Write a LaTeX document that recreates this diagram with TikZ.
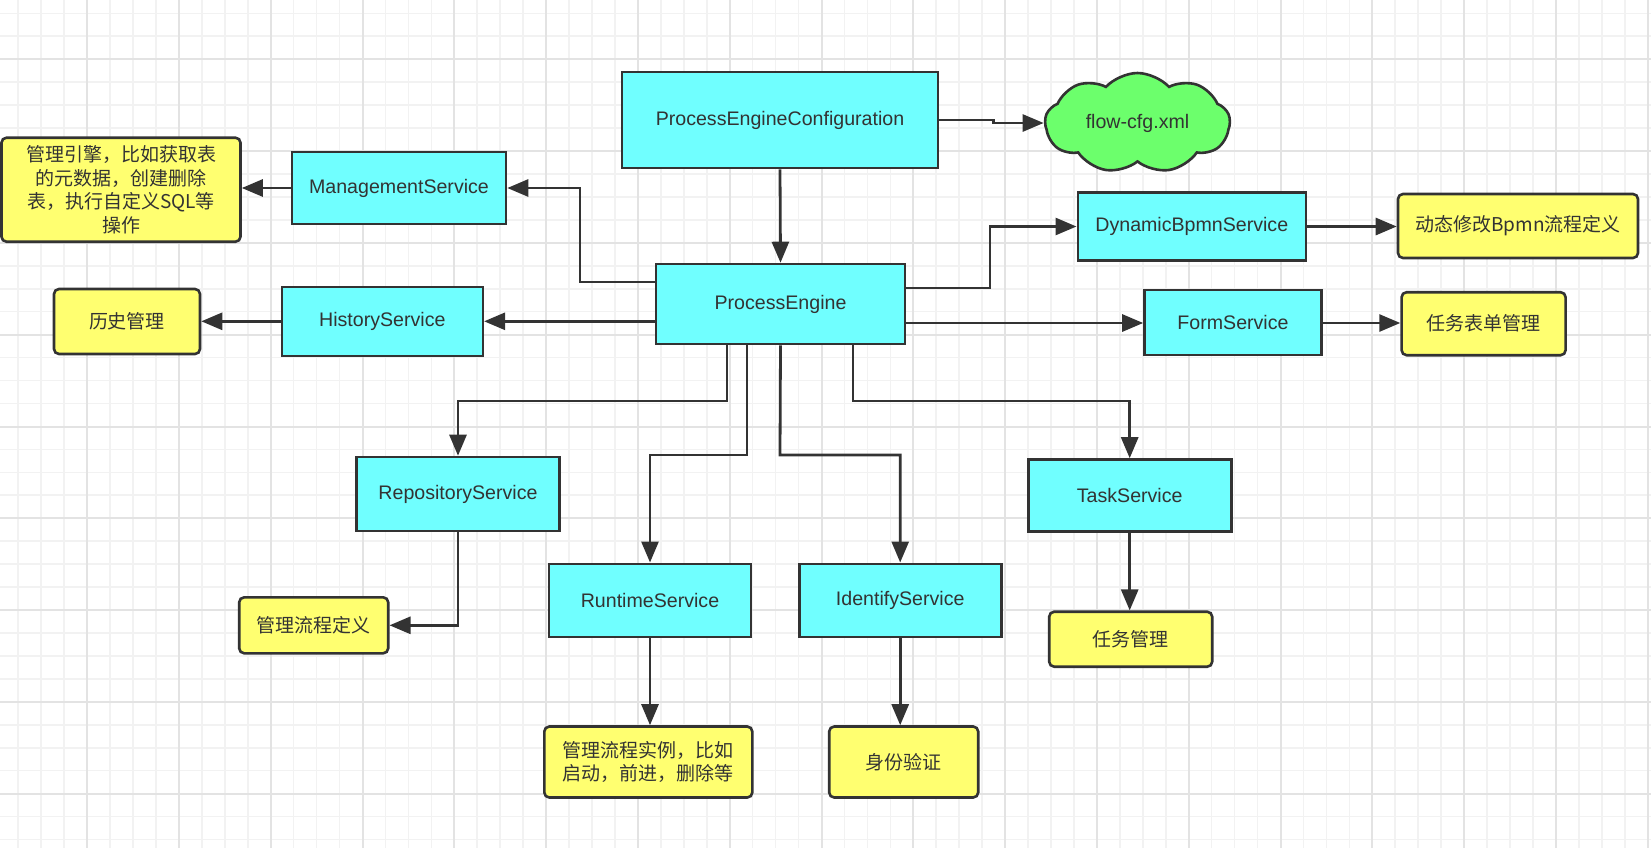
\documentclass[tikz,border=0pt]{standalone}
\usepackage{fontspec}
\setmainfont{Liberation Sans}
\newfontfamily\cjk{Noto Sans CJK SC}
\usetikzlibrary{arrows.meta,shapes.symbols,calc}
\definecolor{cyanfill}{HTML}{70FFFF}
\definecolor{yellowfill}{HTML}{FFFF70}
\definecolor{greenfill}{HTML}{6CFF6C}
\definecolor{edgecol}{HTML}{333333}
\definecolor{gridminor}{HTML}{F2F2F2}
\definecolor{gridmajor}{HTML}{E3E3E3}
\begin{document}
\begin{tikzpicture}[x=0.5pt,y=-0.5pt,
  sz/.style 2 args={minimum width={#1*0.5pt}, minimum height={#2*0.5pt}},
  svc/.style={draw=edgecol, line width=1.3pt, fill=cyanfill, text=edgecol,
    font=\fontsize{9.8}{12}\selectfont, inner sep=0pt},
  note/.style={draw=edgecol, line width=1.3pt, fill=yellowfill, rounded corners=2.5pt,
    text=edgecol, font=\cjk\fontsize{9.5}{11.7}\selectfont, align=center, inner sep=0pt},
  cloudnode/.style={cloud, cloud puffs=9, cloud puff arc=95, cloud ignores aspect,
    draw=edgecol, line width=1.3pt, fill=greenfill, text=edgecol,
    font=\fontsize{9.8}{12}\selectfont, inner sep=0pt},
  arr/.style={draw=edgecol, line width=1.4pt, -{Triangle[length=10.5pt,width=8.5pt]}},
  gmin/.style={draw=gridminor, line width=0.8pt},
  gmaj/.style={draw=gridmajor, line width=1pt}]

% background and grid
\fill[white] (0,0) rectangle (1651,848);
\useasboundingbox (0,0) rectangle (1651,848);
\foreach \i in {0,...,71} \draw[gmin] ({18.25+22.95*\i},0) -- ({18.25+22.95*\i},848);
\foreach \j in {0,...,36} \draw[gmin] (0,{13.3+22.95*\j}) -- (1651,{13.3+22.95*\j});
\foreach \i in {0,...,17} \draw[gmaj] ({87.1+91.8*\i},0) -- ({87.1+91.8*\i},848);
\foreach \j in {0,...,8} \draw[gmaj] (0,{59.3+91.8*\j}) -- (1651,{59.3+91.8*\j});

% service boxes
\node[svc, sz={316}{96}] (cfg) at (780,120) {ProcessEngineConfiguration};
\node[cloudnode, sz={185}{100}] (cloud) at (1137.5,123) {flow-cfg.xml};
\node[svc, sz={249}{80}] (engine) at (780.5,304) {ProcessEngine};
\node[svc, sz={214}{72}] (mgmt) at (399,188) {ManagementService};
\node[svc, sz={201}{69}] (hist) at (382.3,321.3) {HistoryService};
\node[svc, sz={228}{68}] (dyn) at (1191.8,226.5) {DynamicBpmnService};
\node[svc, sz={177}{65}] (form) at (1233,322.5) {FormService};
\node[svc, sz={203}{74}] (repo) at (458,494) {RepositoryService};
\node[svc, sz={202}{73}] (run) at (650,600.3) {RuntimeService};
\node[svc, sz={202}{73}] (ident) at (900.2,600.3) {IdentifyService};
\node[svc, sz={203}{72}] (task) at (1129.7,495.5) {TaskService};

% notes
\node[note, sz={239}{104}] (nmgmt) at (121,189.7) {管理引擎，比如获取表\\的元数据，创建删除\\表，执行自定义SQL等\\操作};
\node[note, sz={146}{65}] (nhist) at (127,321.5) {历史管理};
\node[note, sz={240}{64}] (ndyn) at (1518,226) {动态修改Bpmn流程定义};
\node[note, sz={164}{63}] (nform) at (1483.6,323.7) {任务表单管理};
\node[note, sz={149}{56}] (nrepo) at (313.7,625.3) {管理流程定义};
\node[note, sz={163}{55}] (ntask) at (1130.7,639.2) {任务管理};
\node[note, sz={208}{71}] (nrun) at (648.3,762) {管理流程实例，比如\\启动，前进，删除等};
\node[note, sz={149}{71}] (nid) at (903.7,762) {身份验证};

% connectors
\draw[arr] (cfg.south) -- (engine.north);
\draw[arr] (cfg.east) -- ++(54,0) |- (cloud.west);
\draw[arr] (engine.west |- 0,282) -- (580,282) |- (mgmt.east);
\draw[arr] (engine.west |- hist.east) -- (hist.east);
\draw[arr] (mgmt.west) -- (nmgmt.east |- mgmt.west);
\draw[arr] (hist.west) -- (nhist.east |- hist.west);
\draw[arr] (engine.east |- 0,288) -- (990,288) |- (dyn.west);
\draw[arr] (dyn.east) -- (ndyn.west |- dyn.east);
\draw[arr] (engine.east |- 0,323) -- (form.west |- 0,323);
\draw[arr] (form.east |- 0,323) -- (nform.west |- 0,323);
\draw[arr] (engine.south -| 727,0) -- (727,401) -| (repo.north);
\draw[arr] (engine.south -| 747,0) -- (747,455) -| (run.north);
\draw[arr] (engine.south) -- (780,455) -| (ident.north);
\draw[arr] (engine.south -| 853,0) -- (853,401) -| (task.north);
\draw[arr] (repo.south) |- (nrepo.east);
\draw[arr] (run.south) -- (nrun.north -| run.south);
\draw[arr] (ident.south) -- (nid.north -| ident.south);
\draw[arr] (task.south) -- (ntask.north -| task.south);
\end{tikzpicture}
\end{document}
